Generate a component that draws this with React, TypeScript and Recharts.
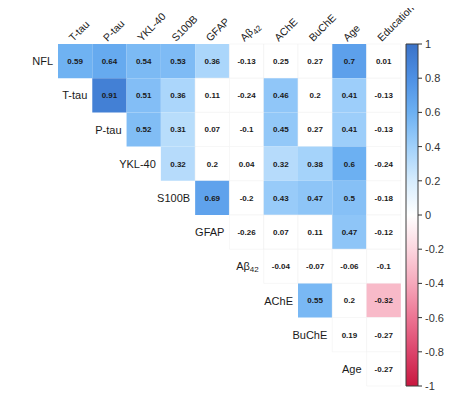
import {
  ComposedChart,
  Scatter,
  XAxis,
  YAxis,
  ReferenceArea,
} from 'recharts'

// variables in matrix order (rows use the first 10, columns the last 10)
const variables = ['NFL', 'T-tau', 'P-tau', 'YKL-40', 'S100B', 'GFAP', 'Aβ42', 'AChE', 'BuChE', 'Age', 'Education']
const rowLabels = variables.slice(0, 10)
const columnLabels = variables.slice(1)

// upper triangle correlations, one array per row (starting at the diagonal)
const nflRow = [0.59, 0.64, 0.54, 0.53, 0.36, -0.13, 0.25, 0.27, 0.7, 0.01]
const ttauRow = [0.91, 0.51, 0.36, 0.11, -0.24, 0.46, 0.2, 0.41, -0.13]
const ptauRow = [0.52, 0.31, 0.07, -0.1, 0.45, 0.27, 0.41, -0.13]
const ykl40Row = [0.32, 0.2, 0.04, 0.32, 0.38, 0.6, -0.24]
const s100bRow = [0.69, -0.2, 0.43, 0.47, 0.5, -0.18]
const gfapRow = [-0.26, 0.07, 0.11, 0.47, -0.12]
const abetaRow = [-0.04, -0.07, -0.06, -0.1]
const acheRow = [0.55, 0.2, -0.32]
const bucheRow = [0.19, -0.27]
const ageRow = [-0.27]
const corrRows = [nflRow, ttauRow, ptauRow, ykl40Row, s100bRow, gfapRow, abetaRow, acheRow, bucheRow, ageRow]

// 1 = significant (coloured), 0 = left white
const nflSig = [1, 1, 1, 1, 1, 0, 0, 0, 1, 0]
const ttauSig = [1, 1, 1, 0, 0, 1, 0, 1, 0]
const ptauSig = [1, 1, 0, 0, 1, 0, 1, 0]
const ykl40Sig = [1, 0, 0, 1, 1, 1, 0]
const s100bSig = [1, 0, 1, 1, 1, 0]
const gfapSig = [0, 0, 0, 1, 0]
const abetaSig = [0, 0, 0, 0]
const acheSig = [1, 0, 1]
const bucheSig = [0, 0]
const ageSig = [0]
const sigRows = [nflSig, ttauSig, ptauSig, ykl40Sig, s100bSig, gfapSig, abetaSig, acheSig, bucheSig, ageSig]

const colorbarTicks = [1, 0.8, 0.6, 0.4, 0.2, 0, -0.2, -0.4, -0.6, -0.8, -1]
const colStops = [0.5, 1.5, 2.5, 3.5, 4.5, 5.5, 6.5, 7.5, 8.5, 9.5]

// palette
const paletteValues = [1, 0.8, 0.6, 0.4, 0.2, 0, -0.2, -0.4, -0.6, -0.8, -1]
const paletteColors = [
  '#3a72c8', '#4e90e4', '#6cb0f2', '#a0d0fa', '#d6ecfd', '#ffffff',
  '#fcd6df', '#f6a8bb', '#ec7593', '#dc446b', '#c8173f',
]

const hex = (c: string) => [1, 3, 5].map((i) => parseInt(c.slice(i, i + 2), 16))

function colorFor(v: number) {
  for (let k = 0; k < paletteValues.length - 1; k++) {
    const a = paletteValues[k]
    const b = paletteValues[k + 1]
    if (v <= a && v >= b) {
      const t = (a - v) / (a - b)
      const ca = hex(paletteColors[k])
      const cb = hex(paletteColors[k + 1])
      const mix = ca.map((x, i) => Math.round(x + (cb[i] - x) * t))
      return `rgb(${mix.join(',')})`
    }
  }
  return '#ffffff'
}

type Cell = { row: number; col: number; value: number; sig: number }

const cells: Cell[] = []
corrRows.forEach((vals, i) => {
  vals.forEach((v, k) => {
    cells.push({ row: i, col: i + k, value: v, sig: sigRows[i][k] })
  })
})

const rowLabelPoints = rowLabels.map((name, i) => ({ x: i, y: i + 0.5, name }))

const FONT = '"Liberation Sans", Arial, sans-serif'
const TEXT = '#1a1a1a'

function renderName(name: string) {
  if (name === 'Aβ42') {
    return (
      <>
        <tspan>Aβ</tspan>
        <tspan fontSize={8} dy={3}>42</tspan>
      </>
    )
  }
  return name
}

const ColumnTick = (props: any) => {
  const { x, y, payload } = props
  const name = columnLabels[Math.round(payload.value - 0.5)]
  const tx = x - 2
  const ty = y + 1
  return (
    <text
      x={tx}
      y={ty}
      transform={`rotate(-45 ${tx} ${ty})`}
      textAnchor="start"
      fontSize={10.5}
      fontFamily={FONT}
      fill={TEXT}
    >
      {renderName(name)}
    </text>
  )
}

const RowLabel = (props: any) => {
  const { cx, cy, payload } = props
  return (
    <text
      x={cx - 5}
      y={cy}
      textAnchor="end"
      dominantBaseline="central"
      fontSize={11}
      fontFamily={FONT}
      fill={TEXT}
    >
      {renderName(payload.name)}
    </text>
  )
}

export default function App() {
  return (
    <div style={{ fontFamily: FONT, margin: '-8px 0 0 -8px', width: 474, height: 397 }}>
      <ComposedChart
        width={474}
        height={397}
        margin={{ top: 14, right: 8, bottom: 11, left: 58 }}
        style={{ overflow: 'visible' }}
      >
        <defs>
          <linearGradient id="cbGrad" x1="0" y1="0" x2="0" y2="1">
            {paletteValues.map((v, k) => (
              <stop key={k} offset={`${((1 - v) / 2) * 100}%`} stopColor={paletteColors[k]} />
            ))}
          </linearGradient>
        </defs>
        <XAxis
          type="number"
          dataKey="x"
          orientation="top"
          domain={[0, 10.5]}
          ticks={colStops}
          interval={0}
          height={30}
          axisLine={false}
          tickLine={false}
          tickSize={0}
          tickMargin={3}
          tick={<ColumnTick />}
        />
        <YAxis yAxisId="rows" type="number" dataKey="y" domain={[0, 10]} reversed hide />
        <YAxis
          yAxisId="cb"
          type="number"
          orientation="right"
          domain={[-1, 1]}
          ticks={colorbarTicks}
          interval={0}
          width={48}
          axisLine={false}
          tickLine={{ stroke: '#333' }}
          tickSize={4}
          tickMargin={3}
          tick={{ fontSize: 11, fill: '#333', fontFamily: FONT }}
          allowDataOverflow
        />
        {cells.map((c) => (
          <ReferenceArea
            key={`${c.row}-${c.col}`}
            yAxisId="rows"
            x1={c.col}
            x2={c.col + 1}
            y1={c.row}
            y2={c.row + 1}
            fill={c.sig ? colorFor(c.value) : '#ffffff'}
            fillOpacity={1}
            stroke={c.sig ? 'none' : '#f1f1f1'}
            strokeWidth={0.6}
            label={{
              value: String(c.value),
              position: 'center',
              fontSize: 8,
              fontWeight: 'bold',
              fill: TEXT,
              fontFamily: FONT,
            }}
          />
        ))}
        <ReferenceArea
          yAxisId="cb"
          x1={10.15}
          x2={10.5}
          y1={-1}
          y2={1}
          fill="url(#cbGrad)"
          fillOpacity={1}
          stroke="#3c3c3c"
          strokeWidth={1}
        />
        <Scatter
          yAxisId="rows"
          data={rowLabelPoints}
          dataKey="y"
          shape={<RowLabel />}
          isAnimationActive={false}
        />
      </ComposedChart>
    </div>
  )
}
